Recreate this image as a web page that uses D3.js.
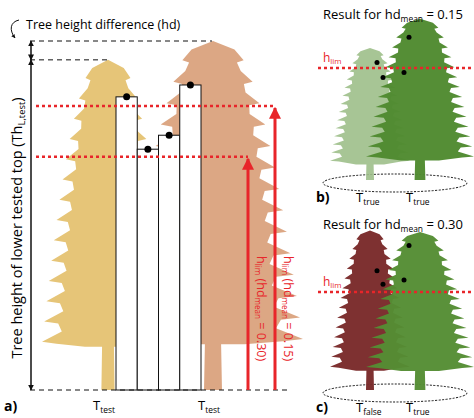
<!DOCTYPE html>
<html><head><meta charset="utf-8">
<script src="https://cdn.jsdelivr.net/npm/d3@7"></script>
<style>body{margin:0;background:#fff}text{font-family:"Open Sans",Calibri,sans-serif}</style>
</head><body><svg id="c" width="474" height="418"></svg>
<script>
// heights as fraction of the taller test tree (panel a)
const treeNames = ["T_test left", "T_test right"];
const treeTops = [0.946, 1.0];
const barHeights = [0.84, 0.69, 0.73, 0.874];
const hlimLevels = [0.814, 0.668];      // hd_mean = 0.15, 0.30
const hlimLabels = ["0.15", "0.30"];
// panels b/c: relative tree tops and dot heights (fraction of panel height)
const panelTitles = ["0.15", "0.30"];
const panelTreeTops = [[0.786, 0.96], [0.95, 0.94]];
const panelHlim = [0.667, 0.583];
const panelDots = [[0.70, 0.61, 0.85, 0.64], [0.71, 0.63, 0.86, 0.655]];
const panelLabels = [["true", "true"], ["false", "true"]];

const svg = d3.select("#c");
const red = "#e8252a";
const ya = d3.scaleLinear().domain([0, 1]).range([390, 41]);

function spruce(cx, top, base, halfW) {
  const n = 14, crown = top + (base - top) * 0.86, step = (crown - top) / n;
  const right = [[0, top]];
  for (let i = 0; i < n; i++) {
    const w = halfW * (0.1 + 0.9 * Math.sqrt((i + 1) / n));
    const y0 = top + step * i;
    right.push([w * 0.7, y0 + step * 0.4], [w, y0 + step * 0.9], [w * 0.78, y0 + step]);
  }
  right.push([halfW * 0.35, crown + 3], [halfW * 0.09, crown + 3], [halfW * 0.1, base]);
  const left = right.slice(1).reverse().map(([dx, y]) => [-dx, y]);
  const pts = right.concat(left).map(([dx, y]) => [cx + dx, y]);
  return d3.line()(pts) + "Z";
}

function sub(t, main, s, fs) {
  t.append("tspan").text(main);
  t.append("tspan").attr("font-size", fs * 0.65).attr("dy", fs * 0.2).text(s);
}

// ----- panel a -----
const treeX = [108, 213], treeW = [66, 90], treeCol = ["#e6c578", "#d9a07a"];
[0, 1].forEach(i => svg.append("path").attr("d", spruce(treeX[i], ya(treeTops[i]), 390, treeW[i]))
  .attr("fill", treeCol[i]).attr("opacity", i ? 0.92 : 1));

const bx = d3.scaleBand().domain(d3.range(barHeights.length)).range([116, 201]);
svg.selectAll(".bar").data(barHeights).join("rect")
  .attr("x", (d, i) => bx(i)).attr("width", bx.bandwidth())
  .attr("y", d => ya(d)).attr("height", d => 390 - ya(d))
  .attr("fill", "#fff").attr("stroke", "#111").attr("stroke-width", 1);
svg.selectAll(".dot").data(barHeights).join("circle")
  .attr("cx", (d, i) => bx(i) + bx.bandwidth() / 2).attr("cy", d => ya(d)).attr("r", 3.5);

const dash = (x1, x2, y) => svg.append("line").attr("x1", x1).attr("x2", x2).attr("y1", y).attr("y2", y)
  .attr("stroke", "#111").attr("stroke-dasharray", "5,4");
dash(30, 212, ya(treeTops[1])); dash(30, 107, ya(treeTops[0])); dash(30, 288, 390);

const defs = svg.append("defs");
[["ab", "#111"], ["ar", red]].forEach(([id, c]) => defs.append("marker").attr("id", id)
  .attr("viewBox", "0 0 10 10").attr("refX", 9).attr("refY", 5).attr("markerWidth", 4).attr("markerHeight", 4)
  .attr("orient", "auto-start-reverse").append("path").attr("d", "M0,0L10,5L0,10Z").attr("fill", c));
const arrow = (x1, y1, y2, c, m, both, w) => svg.append("line").attr("x1", x1).attr("x2", x1)
  .attr("y1", y1).attr("y2", y2).attr("stroke", c).attr("stroke-width", w)
  .attr("marker-end", `url(#${m})`).attr("marker-start", both ? `url(#${m})` : null);
arrow(31, ya(treeTops[0]), 390, "#111", "ab", true, 1.5);
arrow(31, ya(treeTops[1]), ya(treeTops[0]), "#111", "ab", true, 1.5);

const arrowX = [275, 248];
hlimLevels.forEach((h, i) => {
  svg.append("line").attr("x1", 36).attr("x2", arrowX[i]).attr("y1", ya(h)).attr("y2", ya(h))
    .attr("stroke", red).attr("stroke-width", 2.5).attr("stroke-dasharray", "3,3");
  arrow(arrowX[i], 390, ya(h) + 2, red, "ar", false, 3);
  const t = svg.append("text").attr("transform", `translate(${arrowX[i] + 9},256) rotate(90)`)
    .attr("fill", red).attr("font-size", 12.5);
  sub(t, "h", "lim", 12.5); t.append("tspan").attr("dy", -12.5 * 0.2).text(" (hd");
  sub(t, "", "mean", 12.5); t.append("tspan").attr("dy", -12.5 * 0.2).text(" = " + hlimLabels[i] + ")");
});

svg.append("text").attr("x", 26).attr("y", 29).attr("font-size", 12.5).text("Tree height difference (hd)");
svg.append("path").attr("d", "M19,20 C10,22 9,30 15,38").attr("fill", "none").attr("stroke", "#111")
  .attr("marker-end", "url(#ab)");
const vl = svg.append("text").attr("transform", "translate(22,228) rotate(-90)").attr("text-anchor", "middle")
  .attr("font-size", 14.5);
sub(vl, "Tree height of lower tested top (Th", "L,test", 14.5);
vl.append("tspan").attr("dy", -14.5 * 0.2).text(")");
svg.append("text").attr("x", 4).attr("y", 411).attr("font-weight", "bold").attr("font-size", 14).text("a)");
treeX.forEach(cx => sub(svg.append("text").attr("x", cx - 15).attr("y", 410).attr("font-size", 13), "T", "test", 13));

// ----- panels b, c -----
const cols = [["#9dbf8a", "#4f8a2f"], ["#7a2a2a", "#558d34"]];
const pTop = [12, 222], pBase = [180, 390];
panelTitles.forEach((title, p) => {
  const yp = d3.scaleLinear().domain([0, 1]).range([pBase[p], pBase[p] - 168]);
  svg.append("ellipse").attr("cx", 395).attr("cy", pBase[p] + 3).attr("rx", 72).attr("ry", 9)
    .attr("fill", "none").attr("stroke", "#111").attr("stroke-dasharray", "2,1.5");
  const cxs = [370, 420], ws = [40, 54];
  [0, 1].forEach(i => svg.append("path").attr("d", spruce(cxs[i], yp(panelTreeTops[p][i]), pBase[p], ws[i]))
    .attr("fill", cols[p][i]).attr("opacity", p === 0 && i === 0 ? 0.9 : 0.97));
  const dx = [377, 383, 409, 404];
  panelDots[p].forEach((d, i) => svg.append("circle").attr("cx", dx[i]).attr("cy", yp(d)).attr("r", 2.5));
  svg.append("line").attr("x1", 318).attr("x2", 474).attr("y1", yp(panelHlim[p])).attr("y2", yp(panelHlim[p]))
    .attr("stroke", red).attr("stroke-width", 2.5).attr("stroke-dasharray", "3,3");
  sub(svg.append("text").attr("x", 323).attr("y", yp(panelHlim[p]) - 6).attr("fill", red).attr("font-size", 12), "h", "lim", 12);
  const tt = svg.append("text").attr("x", 323).attr("y", pTop[p] + 7).attr("font-size", 13);
  sub(tt, "Result for hd", "mean", 13); tt.append("tspan").attr("dy", -13 * 0.2).text(" = " + title);
  svg.append("text").attr("x", 316).attr("y", pBase[p] + 22).attr("font-weight", "bold").attr("font-size", 14)
    .text(p ? "c)" : "b)");
  panelLabels[p].forEach((l, i) => sub(svg.append("text").attr("x", cxs[i] - 14).attr("y", pBase[p] + 22)
    .attr("font-size", 13), "T", l, 13));
});
</script></body></html>
